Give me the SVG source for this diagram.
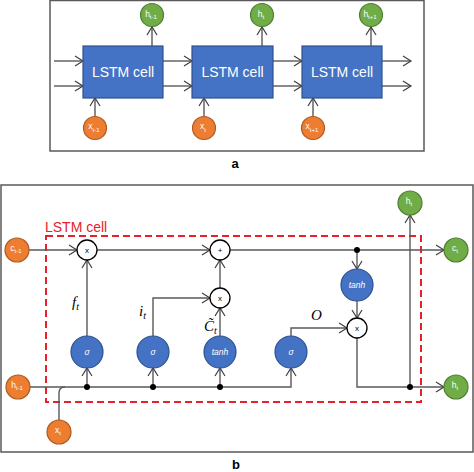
<svg xmlns="http://www.w3.org/2000/svg" width="474" height="472" viewBox="0 0 474 472">
<defs>
<marker id="ah" markerUnits="userSpaceOnUse" markerWidth="10" markerHeight="12" refX="8" refY="5" orient="auto" overflow="visible">
<path d="M0,0 L8,5 L0,10" fill="none" stroke="#404040" stroke-width="1.2"/>
</marker>
<style>
.frame{fill:#fff;stroke:#595959;stroke-width:1.5}
.cell{fill:#4472C4;stroke:#2F528F;stroke-width:1.2}
.celltxt{font-family:"Liberation Sans",Arial,sans-serif;font-size:14px;fill:#fff;text-anchor:middle}
.gr{fill:#70AD47;stroke:#507E32;stroke-width:1.2}
.or{fill:#ED7D31;stroke:#AE5A21;stroke-width:1.2}
.bl{fill:#4472C4;stroke:#2F528F;stroke-width:1.2}
.op{fill:#fff;stroke:#000;stroke-width:1.3}
.ctxt{font-family:"Liberation Sans",Arial,sans-serif;font-size:8.5px;fill:#fff;text-anchor:middle}
.sub{font-size:6px}
.gtxt{font-family:"Liberation Sans",Arial,sans-serif;font-size:8.5px;font-style:italic;fill:#fff;text-anchor:middle}
.otxt{font-family:"Liberation Sans",Arial,sans-serif;font-size:8px;fill:#000;text-anchor:middle}
.lbl{font-family:"Liberation Serif","Times New Roman",serif;font-style:italic;font-size:15px;fill:#000}
.cap{font-family:"Liberation Sans",Arial,sans-serif;font-weight:bold;font-size:13px;fill:#000;text-anchor:middle}
.conn path{fill:none;stroke:#595959;stroke-width:1.4}
.arr{marker-end:url(#ah)}
.dot{fill:#000}
</style>
</defs>
<rect x="0" y="0" width="474" height="472" fill="#fff"/>

<!-- Panel a -->
<rect class="frame" x="50" y="0.5" width="374" height="150.5"/>
<g class="conn">
<path class="arr" d="M54,61 H83"/>
<path class="arr" d="M54,86 H83"/>
<path class="arr" d="M163,61 H192"/>
<path class="arr" d="M163,86 H192"/>
<path class="arr" d="M273,61 H302"/>
<path class="arr" d="M273,86 H302"/>
<path class="arr" d="M382,61 H411"/>
<path class="arr" d="M382,86 H411"/>
<path class="arr" d="M152,46 V27"/>
<path class="arr" d="M262,46 V27"/>
<path class="arr" d="M371,46 V27"/>
<path class="arr" d="M95,116 V98"/>
<path class="arr" d="M204,116 V98"/>
<path class="arr" d="M313,116 V98"/>
</g>
<g id="cell1"><rect class="cell" x="83" y="46" width="80" height="52"/><text class="celltxt" x="123" y="77">LSTM cell</text></g>
<g id="cell2"><rect class="cell" x="192" y="46" width="81" height="52"/><text class="celltxt" x="232.5" y="77">LSTM cell</text></g>
<g id="cell3"><rect class="cell" x="302" y="46" width="80" height="52"/><text class="celltxt" x="342" y="77">LSTM cell</text></g>
<g id="ha1"><circle class="gr" cx="152" cy="15" r="11.5"/><text class="ctxt" x="151" y="17">h<tspan class="sub" dy="2">t-1</tspan></text></g>
<g id="ha2"><circle class="gr" cx="262" cy="15" r="11.5"/><text class="ctxt" x="261" y="17">h<tspan class="sub" dy="2">t</tspan></text></g>
<g id="ha3"><circle class="gr" cx="371" cy="15" r="11.5"/><text class="ctxt" x="370" y="17">h<tspan class="sub" dy="2">t+1</tspan></text></g>
<g id="xa1"><circle class="or" cx="95" cy="128" r="11.5"/><text class="ctxt" x="94" y="129">x<tspan class="sub" dy="3">t-1</tspan></text></g>
<g id="xa2"><circle class="or" cx="204" cy="128" r="11.5"/><text class="ctxt" x="203" y="129">x<tspan class="sub" dy="3">t</tspan></text></g>
<g id="xa3"><circle class="or" cx="313" cy="128" r="11.5"/><text class="ctxt" x="312" y="129">x<tspan class="sub" dy="3">t+1</tspan></text></g>
<text class="cap" x="235" y="168">a</text>

<!-- Panel b -->
<rect class="frame" x="1" y="185" width="472" height="267"/>
<rect x="46" y="236" width="375" height="166" fill="none" stroke="#E8202A" stroke-width="2" stroke-dasharray="7,4"/>
<text x="45" y="232" font-family="Liberation Sans,Arial,sans-serif" font-size="14" fill="#E8202A">LSTM cell</text>

<g class="conn">
<path class="arr" d="M29,250 H77"/>
<path class="arr" d="M97,250 H210"/>
<path class="arr" d="M230,250 H444"/>
<path class="arr" d="M357,250 V269"/>
<path class="arr" d="M357,301 V318"/>
<path class="arr" d="M291,336 V328 H347"/>
<path class="arr" d="M357,338 V387 H444"/>
<path class="arr" d="M410,387 V215"/>
<path class="arr" d="M30,387 H291 V368"/>
<path d="M59,420 V393 Q59,387 65,387"/>
<path class="arr" d="M87,387 V368"/>
<path class="arr" d="M153,387 V368"/>
<path class="arr" d="M220,387 V368"/>
<path class="arr" d="M87,336 V260"/>
<path class="arr" d="M153,336 V298 H210"/>
<path class="arr" d="M220,336 V308"/>
<path class="arr" d="M220,288 V260"/>
<circle class="dot" cx="357" cy="250" r="3"/>
<circle class="dot" cx="410" cy="387" r="3"/>
<circle class="dot" cx="87" cy="387" r="3"/>
<circle class="dot" cx="153" cy="387" r="3"/>
<circle class="dot" cx="220" cy="387" r="3"/>
</g>

<g id="c_prev"><circle class="or" cx="17" cy="250" r="12"/><text class="ctxt" x="16" y="251">c<tspan class="sub" dy="2">t-1</tspan></text></g>
<g id="h_prev"><circle class="or" cx="18" cy="387" r="12"/><text class="ctxt" x="17" y="388">h<tspan class="sub" dy="2">t-1</tspan></text></g>
<g id="x_t"><circle class="or" cx="59" cy="432" r="12"/><text class="ctxt" x="58" y="433">x<tspan class="sub" dy="2">t</tspan></text></g>
<g id="h_top"><circle class="gr" cx="410" cy="203" r="12"/><text class="ctxt" x="409" y="204">h<tspan class="sub" dy="2">t</tspan></text></g>
<g id="c_t"><circle class="gr" cx="456" cy="250" r="12"/><text class="ctxt" x="455" y="251">c<tspan class="sub" dy="2">t</tspan></text></g>
<g id="h_t"><circle class="gr" cx="456" cy="387" r="12"/><text class="ctxt" x="455" y="388">h<tspan class="sub" dy="2">t</tspan></text></g>

<g id="mult_f"><circle class="op" cx="87" cy="250" r="10"/><text class="otxt" x="87" y="253">x</text></g>
<g id="plus"><circle class="op" cx="220" cy="250" r="10"/><text class="otxt" x="220" y="253">+</text></g>
<g id="mult_i"><circle class="op" cx="220" cy="298" r="10"/><text class="otxt" x="220" y="301">x</text></g>
<g id="mult_o"><circle class="op" cx="357" cy="328" r="10"/><text class="otxt" x="357" y="331">x</text></g>

<g id="sig_f"><circle class="bl" cx="87" cy="352" r="16"/><text class="gtxt" x="87" y="355">σ</text></g>
<g id="sig_i"><circle class="bl" cx="153" cy="352" r="16"/><text class="gtxt" x="153" y="355">σ</text></g>
<g id="tanh_c"><circle class="bl" cx="220" cy="352" r="16"/><text class="gtxt" x="220" y="355">tanh</text></g>
<g id="sig_o"><circle class="bl" cx="291" cy="352" r="16"/><text class="gtxt" x="291" y="355">σ</text></g>
<g id="tanh_o"><circle class="bl" cx="357" cy="285" r="16"/><text class="gtxt" x="357" y="288">tanh</text></g>

<text class="lbl" x="72" y="307">f<tspan font-size="10" dy="3">t</tspan></text>
<text class="lbl" x="139" y="316">i<tspan font-size="10" dy="3">t</tspan></text>
<text class="lbl" x="204" y="331">C̃<tspan font-size="10" dy="3">t</tspan></text>
<text class="lbl" x="311" y="320">O</text>
<text class="cap" x="236" y="469">b</text>
</svg>
